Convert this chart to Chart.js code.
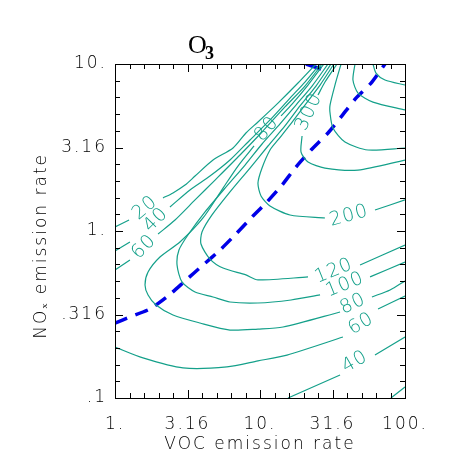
<!DOCTYPE html>
<html><head><meta charset="utf-8">
<script src="https://cdn.jsdelivr.net/npm/chart.js@4/dist/chart.umd.min.js"></script>
<style>html,body{margin:0;padding:0;background:#fff;}canvas{display:block;}</style>
</head><body>
<canvas id="c" width="453" height="476"></canvas>
<script>
// axes in log10 units: x = log10(VOC emission rate), y = log10(NOx emission rate)
const xTickValues = [0,0.1,0.2,0.3,0.4,0.5,0.6,0.7,0.8,0.9,1,1.1,1.2,1.3,1.4,1.5,1.6,1.7,1.8,1.9,2];
const xTickLabels = ['1.','3.16','10.','31.6','100.'];
const yTickValues = [-1,-0.9,-0.8,-0.7,-0.6,-0.5,-0.4,-0.3,-0.2,-0.1,0,0.1,0.2,0.3,0.4,0.5,0.6,0.7,0.8,0.9,1];
const yTickLabels = ['.1','.316','1.','3.16','10.'];

// ozone isopleths, [logVOC, logNOx]; null = gap for a label
const o3_20 = [[0,.024],[.097,.066],null,[.331,.198],[.400,.228],[.483,.275],[.552,.329],[.676,.425],[.814,.497],[.903,.587],[.986,.653],[1.124,.766],[1.262,.886],[1.386,1.0]];
const o3_20b = [[1.903,-1.0],[2.0,-.934]];
const o3_40 = [[0,-.120],[.103,-.066],null,[.379,.144],[.517,.246],[.655,.329],[.793,.425],[.931,.545],[1.069,.665],[1.207,.796],[1.310,.892],[1.414,1.0]];
const o3_40b = [[1.193,-1.0],[1.552,-.862],null,[1.793,-.743],[2.0,-.635]];
const o3_60 = [[0,-.234],[.103,-.174],null,[.297,-.018],[.414,.066],[.552,.186],[.690,.305],[.862,.455],[1.014,.593],[1.172,.743],[1.310,.868],[1.428,1.0]];
const o3_60b = [[0,-.695],[.193,-.760],[.469,-.820],[.772,-.814],[.986,-.778],[1.186,-.743],[1.572,-.635],null,[1.814,-.467],[2.0,-.389]];
const o3_80 = [[1.441,1.0],[1.331,.874],[1.221,.760],[1.145,.689],null,[.959,.509],[.848,.389],[.745,.257],[.607,.078],[.448,-.066],[.310,-.156],[.228,-.246],[.207,-.323],[.228,-.383],[.283,-.443],[.400,-.503],[.586,-.551],[.793,-.593],[.986,-.587],[1.159,-.575],[1.552,-.485],null,[1.772,-.395],[1.897,-.353],[2.0,-.299]];
const o3_100 = [[1.469,1.0],[1.359,.868],[1.248,.754],[1.138,.641],[1.014,.521],[.897,.395],[.759,.257],[.621,.114],[.503,-.024],[.441,-.114],[.428,-.204],[.462,-.305],[.552,-.365],[.676,-.395],[.793,-.425],[.986,-.431],[1.214,-.413],[1.414,-.383],null,[1.759,-.275],[2.0,-.186]];
const o3_120 = [[1.490,1.0],[1.386,.868],[1.276,.749],[1.172,.629],[1.055,.509],[.931,.377],[.793,.234],[.669,.096],[.600,-.006],[.593,-.078],[.655,-.168],[.745,-.222],[.903,-.263],[.986,-.293],[1.331,-.275],null,[1.690,-.204],[2.0,-.084]];
const o3_200 = [[1.510,1.0],[1.414,.874],[1.310,.754],[1.207,.635],[1.124,.545],[1.069,.485],[1.014,.377],[.986,.287],[1.007,.210],[1.069,.150],[1.207,.096],[1.448,.078],null,[1.793,.126],[2.0,.186]];
const o3_300 = [[1.531,1.0],[1.448,.892],[1.400,.814],null,[1.290,.569],[1.283,.473],[1.331,.413],[1.448,.377],[1.676,.365],[2.0,.425]];
const o3_400 = [[1.559,1.0],[1.517,.874],[1.483,.754],[1.483,.707],[1.503,.617],[1.586,.533],[1.745,.485],[2.0,.497]];
const o3_500 = [[1.655,1.0],[1.641,.904],[1.676,.826],[1.779,.772],[2.0,.725]];
const o3_600 = [[1.779,1.0],[1.800,.946],[1.862,.904],[2.0,.874]];
const contours = [o3_20,o3_20b,o3_40,o3_40b,o3_60,o3_60b,o3_80,o3_100,o3_120,o3_200,o3_300,o3_400,o3_500,o3_600];

// ridge line (dashed)
const ridge = [[0,-.551],[.103,-.515],[.241,-.467],[.366,-.389],[.483,-.299],[.607,-.204],[.724,-.114],[.834,-.018],[.945,.084],[1.048,.174],[1.152,.275],[1.248,.383],[1.352,.485],[1.469,.587],[1.559,.683],[1.662,.796],[1.766,.886],[1.862,1.0]];
const ridgeTop = [[1.317,1.0],[1.421,.970]];

// contour labels: [text, logVOC, logNOx, angle]
const labelText = ['20','40','60','80','300','200','120','100','80','60','40'];
const labelVOC  = [.207,.283,.200,1.048,1.338,1.614,1.510,1.586,1.641,1.697,1.655];
const labelNOx  = [.138,.066,-.096,.611,.713,.090,-.240,-.323,-.437,-.557,-.784];
const labelAngle= [-40,-45,-45,-50,-65,-15,-22,-22,-25,-30,-30];

const TEAL = '#14a08a';
const toData = pts => pts.map((p,i)=> p ? {x:p[0], y:p[1]} : {x:pts[i-1][0], y:null});

const datasets = contours.map(c => ({data: toData(c), showLine:true, borderColor:TEAL, borderWidth:1.2, pointRadius:0, tension:0.25, spanGaps:false}));
datasets.push({data: toData(ridge), showLine:true, borderColor:'#0000e8', borderWidth:3.5, borderDash:[13,9], pointRadius:0, tension:0.2});
datasets.push({data: toData(ridgeTop), showLine:true, borderColor:'#0000e8', borderWidth:3.5, pointRadius:0});

const FONT = {family:'DejaVu Sans', size:17, weight:'200'};

const framePlugin = {
  id:'frame',
  beforeDraw(chart){ chart.ctx.letterSpacing = '2px'; },
  afterDatasetsDraw(chart){
    const {ctx, chartArea:a, scales:{x,y}} = chart;
    ctx.save();
    ctx.strokeStyle = '#000'; ctx.lineWidth = 1;
    ctx.strokeRect(a.left+0.5, a.top+0.5, a.right-a.left, a.bottom-a.top);
    ctx.beginPath();
    x.ticks.forEach(t=>{
      const p = Math.round(x.getPixelForValue(t.value))+0.5;
      const major = Math.abs(t.value*2-Math.round(t.value*2))<1e-6;
      const L = major?8:5;
      ctx.moveTo(p,a.bottom); ctx.lineTo(p,a.bottom-L);
      ctx.moveTo(p,a.top); ctx.lineTo(p,a.top+L);
    });
    y.ticks.forEach(t=>{
      const p = Math.round(y.getPixelForValue(t.value))+0.5;
      const major = Math.abs(t.value*2-Math.round(t.value*2))<1e-6;
      const L = major?8:5;
      ctx.moveTo(a.left,p); ctx.lineTo(a.left+L,p);
      ctx.moveTo(a.right,p); ctx.lineTo(a.right-L,p);
    });
    ctx.stroke();
    // contour labels
    ctx.fillStyle = TEAL;
    ctx.font = '200 19px "DejaVu Sans"';
    ctx.letterSpacing = '1px';
    ctx.textAlign = 'center'; ctx.textBaseline = 'middle';
    labelText.forEach((s,i)=>{
      ctx.save();
      ctx.translate(x.getPixelForValue(labelVOC[i]), y.getPixelForValue(labelNOx[i]));
      ctx.rotate(labelAngle[i]*Math.PI/180);
      ctx.fillText(s,0,0);
      ctx.restore();
    });
    // title O3
    ctx.fillStyle = '#000';
    ctx.letterSpacing = '0px';
    ctx.textAlign = 'left'; ctx.textBaseline = 'alphabetic';
    ctx.font = '26px "Liberation Serif"';
    ctx.fillText('O', 188, 53);
    ctx.font = 'bold 18px "Liberation Serif"';
    ctx.fillText('3', 205, 59);
    ctx.restore();
  }
};

new Chart(document.getElementById('c'), {
  type:'scatter',
  data:{datasets},
  options:{
    responsive:false, animation:false, devicePixelRatio:1,
    layout:{padding:{left:0, top:64, right:48, bottom:0}},
    plugins:{legend:{display:false}, tooltip:{enabled:false}},
    scales:{
      x:{type:'linear', min:0, max:2,
        grid:{display:false, drawTicks:false}, border:{display:false},
        afterBuildTicks(s){ s.ticks = xTickValues.map(v=>({value:v})); },
        afterFit(s){ s.height = 78; },
        ticks:{autoSkip:false, maxRotation:0, padding:16, color:'#000', font:FONT,
          callback(v){ const k=Math.round(v*2); return Math.abs(v*2-k)<1e-6 ? xTickLabels[k] : ''; }},
        title:{display:true, text:'VOC emission rate', color:'#000', font:FONT, padding:{top:0,bottom:21}}
      },
      y:{type:'linear', min:-1, max:1,
        grid:{display:false, drawTicks:false}, border:{display:false},
        afterBuildTicks(s){ s.ticks = yTickValues.map(v=>({value:v})); },
        afterFit(s){ s.width = 115; },
        ticks:{autoSkip:false, padding:8, color:'#000', font:FONT,
          callback(v){ const k=Math.round((v+1)*2); return Math.abs((v+1)*2-k)<1e-6 ? yTickLabels[k] : ''; }},
        title:{display:true, text:'NOₓ emission rate    ', color:'#000', font:FONT, padding:{top:31,bottom:0}}
      }
    }
  },
  plugins:[framePlugin]
});
</script>
</body></html>
